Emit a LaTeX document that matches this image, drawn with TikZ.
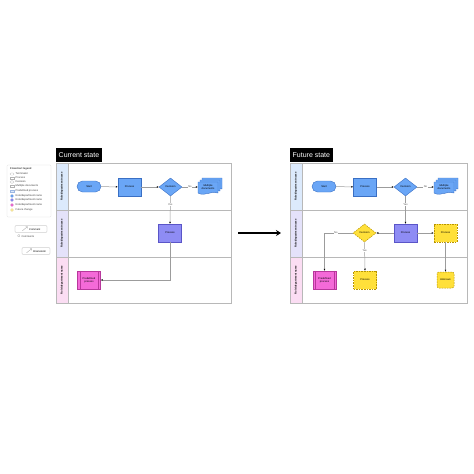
\documentclass[tikz,border=0pt]{standalone}
\usepackage{fontspec}
\setmainfont{Liberation Sans}
\usetikzlibrary{shapes.geometric,shapes.misc,arrows.meta,calc}

\definecolor{laneblue}{HTML}{DCEAFC}
\definecolor{lanepurple}{HTML}{E4E2FA}
\definecolor{lanepink}{HTML}{FBDDF3}
\definecolor{nodeblue}{HTML}{6AA6F6}
\definecolor{edgeblue}{HTML}{3A6FC4}
\definecolor{nodepurple}{HTML}{8E8CF4}
\definecolor{edgepurple}{HTML}{5A55C8}
\definecolor{nodepink}{HTML}{F46AD8}
\definecolor{edgepink}{HTML}{B8389C}
\definecolor{nodeyellow}{HTML}{FFE03A}
\definecolor{edgeyellow}{HTML}{B89400}
\definecolor{wiregray}{HTML}{9C9C9C}
\definecolor{framegray}{HTML}{B8B8B8}

% one sheet of the multiple documents symbol, top left corner at (#1,#2)
\newcommand{\docsheet}[2]{%
  \filldraw[fill=nodeblue, draw=edgeblue, line width=0.4pt]
    (#1,#2) -- (#1+20,#2) -- (#1+20,#2+11)
    .. controls (#1+14,#2+8) and (#1+7,#2+15) .. (#1,#2+11) -- cycle;}

\begin{document}
\begin{tikzpicture}[x=1pt,y=-1pt,
    txt/.style={font=\fontsize{2.6}{3}\selectfont},
    base/.style={txt, inner sep=0pt, align=center, line width=0.4pt},
    term/.style={base, rounded rectangle, minimum width=24pt, minimum height=11pt, fill=nodeblue, draw=edgeblue},
    proc/.style={base, rectangle, minimum width=23pt, minimum height=18pt, fill=nodeblue, draw=edgeblue},
    dec/.style={base, diamond, minimum width=23pt, minimum height=18pt, fill=nodeblue, draw=edgeblue},
    docs/.style={base, minimum width=20pt, minimum height=11pt},
    predef/.style={proc, fill=nodepink, draw=edgepink},
    role/.style={proc, fill=nodepurple, draw=edgepurple},
    future/.style={fill=nodeyellow, draw=edgeyellow, line width=0.5pt, dash pattern=on 1.6pt off 1pt},
    wire/.style={draw=wiregray, line width=0.5pt, -{Latex[length=2pt,width=1.8pt,color=black]}},
    lbl/.style={txt, fill=white, inner sep=0.4pt, text=black!70},
    lane/.style={draw=framegray, line width=0.5pt},
    lanetxt/.style={txt, rotate=90, font=\fontsize{2.6}{3}\selectfont\bfseries},
    title/.style={fill=black, text=white, font=\fontsize{7}{8}\selectfont, inner xsep=2.5pt, minimum height=14pt, anchor=south west},
    legicon/.style={inner sep=0pt, line width=0.2pt, draw=black!30, fill=white},
    legtxt/.style={txt, anchor=west, inner sep=0pt, text=black!75},
    button/.style={txt, draw=black!35, rounded corners=1pt, fill=white, inner sep=0pt, line width=0.3pt}
  ]
\useasboundingbox (0,0) rectangle (474,474);

% legend
\draw[draw=black!15, fill=white, rounded corners=1pt, line width=0.3pt] (7,165) rectangle (51,217);
\node[legtxt, font=\fontsize{2.6}{3}\selectfont\bfseries] (legtitle) at (10,168.5) {Flowchart legend};
\node[legicon, rounded rectangle, minimum width=4pt, minimum height=2.2pt] (leg1) at (12,174) {};
\node[legtxt] (legt1) at (15.5,174) {Terminator};
\node[legicon, rectangle, minimum width=4pt, minimum height=2.4pt] (leg2) at (12,178) {};
\node[legtxt] (legt2) at (15.5,178) {Process};
\node[legicon, diamond, minimum width=4pt, minimum height=3pt] (leg3) at (12,182) {};
\node[legtxt] (legt3) at (15.5,182) {Decision};
\node[legicon, rectangle, minimum width=3.6pt, minimum height=2.4pt] (leg4) at (12,186) {};
\node[legtxt] (legt4) at (15.5,186) {Multiple documents};
\node[legicon, rectangle, minimum width=4pt, minimum height=2.4pt, draw=edgeblue!50, fill=laneblue] (leg5) at (12,191) {};
\node[legtxt] (legt5) at (15.5,191) {Predefined process};
\node[legicon, circle, minimum size=2.8pt, fill=nodeblue, draw=edgeblue] (leg6) at (12,196) {};
\node[legtxt] (legt6) at (15.5,196) {Role/department name};
\node[legicon, circle, minimum size=2.8pt, fill=nodepurple, draw=edgepurple] (leg7) at (12,200) {};
\node[legtxt] (legt7) at (15.5,200) {Role/department name};
\node[legicon, circle, minimum size=2.8pt, fill=nodepink, draw=edgepink] (leg8) at (12,205) {};
\node[legtxt] (legt8) at (15.5,205) {Role/department name};
\node[legicon, circle, minimum size=2.8pt, fill=nodeyellow!50, draw=edgeyellow!60] (leg9) at (12,210) {};
\node[legtxt] (legt9) at (15.5,210) {Future change};

% buttons
\node[button, minimum width=32pt, minimum height=7pt] (comment) at (31,229) {\textcolor{black!60}{$\nearrow$}\ Comment};
\node[legtxt] (comments) at (17,236) {\textcolor{black!60}{$\circ$} Comments};
\node[button, minimum width=28pt, minimum height=7pt] (brainstorm) at (36,251) {\textcolor{black!60}{$\nearrow$}\ Brainstorm};

% current state
\node[title] (curtitle) at (56,162) {Current state};
\fill[laneblue] (56,163) rectangle (68,210);
\fill[lanepurple] (56,210) rectangle (68,257);
\fill[lanepink] (56,257) rectangle (68,303);
\draw[lane] (56,163) rectangle (231,303);
\draw[lane] (56,210) -- (231,210);
\draw[lane] (56,257) -- (231,257);
\draw[lane] (68,163) -- (68,303);
\node[lanetxt] (cl1) at (62,186.5) {Role/department name};
\node[lanetxt] (cl2) at (62,233.5) {Role/department name};
\node[lanetxt] (cl3) at (62,280) {Role/department name};

\node[term] (cstart) at (89,186.5) {Start};
\node[proc] (cproc) at (129.5,187) {Process};
\node[dec] (cdec) at (170.5,187) {Decision};
\docsheet{202}{178}
\docsheet{200}{180}
\docsheet{198}{182}
\node[docs] (cdocs) at (208,187.5) {Multiple\\documents};
\node[role] (crole) at (170,233) {Process};
\node[predef] (cpre) at (89,280) {Predefined\\process};
\draw[edgepink, line width=0.4pt] ($(cpre.north west)+(2.5,0)$) -- ($(cpre.south west)+(2.5,0)$)
  ($(cpre.north east)+(-2.5,0)$) -- ($(cpre.south east)+(-2.5,0)$);

\draw[wire] (cstart) -- (cproc);
\draw[wire] (cproc) -- (cdec);
\draw[wire] (cdec.east) -- node[lbl] {No} (cdocs.west |- cdec.east);
\draw[wire] (cdec.south) -- node[lbl, pos=0.3] {Yes} (crole.north);
\draw[wire] (crole.south) |- (cpre.east);

% arrow between the two states
\coordinate (gofrom) at (238,233);
\coordinate (goto) at (281,233);
\draw[line width=1.6pt, -{Stealth[length=5pt,width=6pt]}] (gofrom) -- (goto);

% future state
\node[title] (futtitle) at (290,162) {Future state};
\fill[laneblue] (290,163) rectangle (302,210);
\fill[lanepurple] (290,210) rectangle (302,257);
\fill[lanepink] (290,257) rectangle (302,303);
\draw[lane] (290,163) rectangle (467,303);
\draw[lane] (290,210) -- (467,210);
\draw[lane] (290,257) -- (467,257);
\draw[lane] (302,163) -- (302,303);
\node[lanetxt] (fl1) at (296,186.5) {Role/department name};
\node[lanetxt] (fl2) at (296,233.5) {Role/department name};
\node[lanetxt] (fl3) at (296,280) {Role/department name};

\node[term] (fstart) at (324,186.5) {Start};
\node[proc] (fproc) at (365,187) {Process};
\node[dec] (fdec) at (405.5,187) {Decision};
\docsheet{438}{178}
\docsheet{436}{180}
\docsheet{434}{182}
\node[docs] (fdocs) at (444,187.5) {Multiple\\documents};
\node[role] (frole) at (405.5,233) {Process};
\node[dec, future] (fdec2) at (364.5,233) {Decision};
\node[proc, future] (fproc2) at (445.5,233) {Process};
\node[predef] (fpre) at (324.5,280) {Predefined\\process};
\draw[edgepink, line width=0.4pt] ($(fpre.north west)+(2.5,0)$) -- ($(fpre.south west)+(2.5,0)$)
  ($(fpre.north east)+(-2.5,0)$) -- ($(fpre.south east)+(-2.5,0)$);
\node[proc, future] (fproc3) at (365,280) {Process};
\node[base, future, rounded corners=2pt, minimum width=17pt, minimum height=16pt] (fend) at (445.5,280) {Unknown};

\draw[wire] (fstart) -- (fproc);
\draw[wire] (fproc) -- (fdec);
\draw[wire] (fdec.east) -- node[lbl] {No} (fdocs.west |- fdec.east);
\draw[wire] (fdec.south) -- node[lbl, pos=0.3] {Yes} (frole.north);
\draw[wire] (frole.west) -- (fdec2.east);
\draw[wire] (frole.east) -- (fproc2.west);
\draw[wire] (fdec2.west) -| node[lbl, pos=0.3] {No} (fpre.north);
\draw[wire] (fdec2.south) -- node[lbl, pos=0.3] {Yes} (fproc3.north);
\draw[wire] (fproc2.south) -- (fend.north);
\end{tikzpicture}
\end{document}
